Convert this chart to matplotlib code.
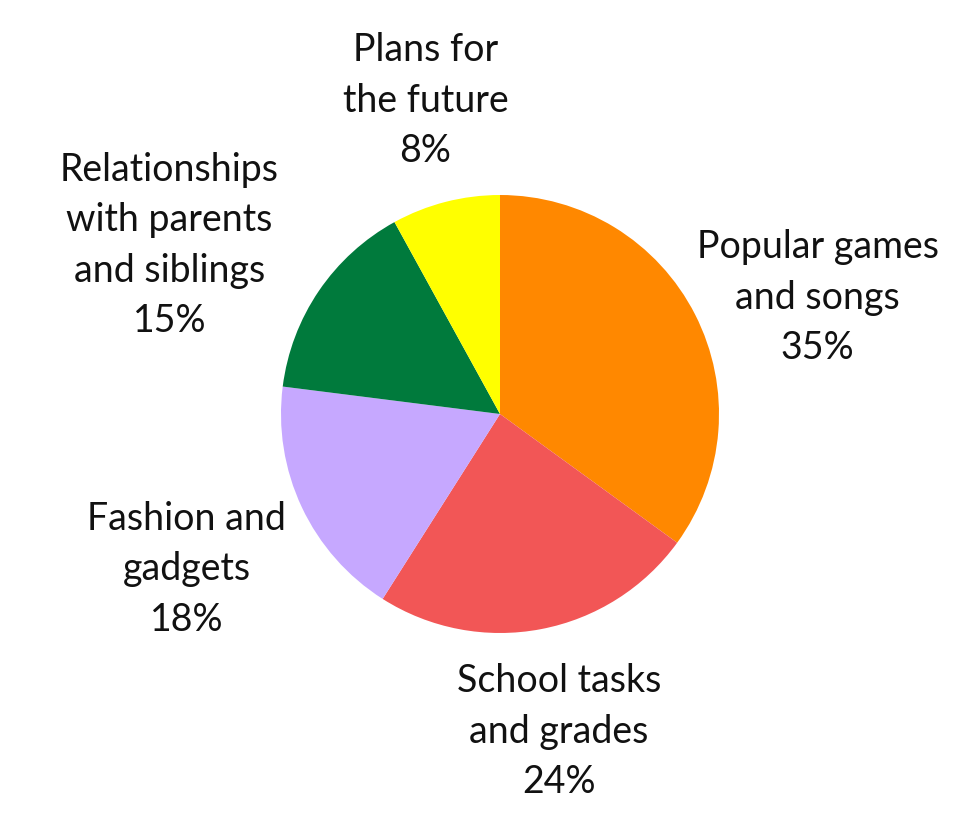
import matplotlib
matplotlib.use("Agg")
import matplotlib.pyplot as plt

# ── Data ─────────────────────────────────────────────────────────────────────
labels = ["Popular games\nand songs", "School tasks\nand grades",
          "Fashion and\ngadgets", "Relationships\nwith parents\nand siblings",
          "Plans for\nthe future"]
shares = [35, 24, 18, 15, 8]
colors = ["#FF8800", "#F25656", "#C6A8FF", "#007A3C", "#FFFF00"]

# label centres in units of pie radius (layout only)
label_pos = [(1.45, 0.53), (0.27, -1.45), (-1.43, -0.71),
             (-1.51, 0.77), (-0.34, 1.43)]

W, H = 975, 831
R_PX = 219
CX, CY = 500, 414

fig = plt.figure(figsize=(W / 100, H / 100), dpi=100)
ax = fig.add_axes([0, 0, 1, 1])

wedges, _ = ax.pie(shares, colors=colors, startangle=90, counterclock=False,
                   radius=1.0, wedgeprops={"linewidth": 0})

for lab, val, (x, y) in zip(labels, shares, label_pos):
    ax.text(x, y, f"{lab}\n{val}%", ha="center", va="center",
            multialignment="center", fontsize=27, family="Lato",
            color="#111111", linespacing=1.5)

ax.set_xlim(-CX / R_PX, (W - CX) / R_PX)
ax.set_ylim(-(H - CY) / R_PX, CY / R_PX)
ax.set_aspect("equal")
ax.axis("off")

plt.savefig("out.png", dpi=100)
plt.close()
